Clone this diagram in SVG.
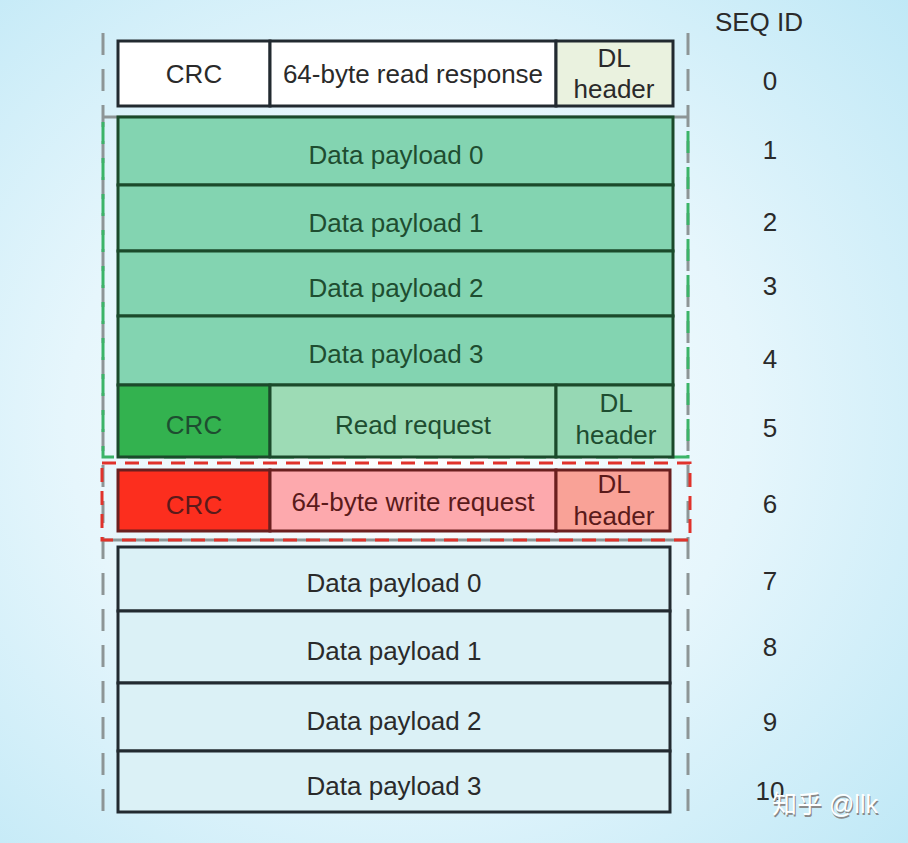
<svg xmlns="http://www.w3.org/2000/svg" width="908" height="843" viewBox="0 0 908 843">
<defs>
<radialGradient id="bg" cx="0.45" cy="0.5" r="0.75">
<stop offset="0" stop-color="#ffffff"/><stop offset="0.5" stop-color="#e6f6fc"/><stop offset="1" stop-color="#bfe8f6"/>
</radialGradient>
</defs>
<style>
text{font-family:"Liberation Sans",Arial,sans-serif;font-size:26px;text-anchor:middle;fill:#2a2a2a}
.g text{fill:#1e4d30}
.r text{fill:#5a1a1a}
.k{stroke:#222a30;stroke-width:3}
.gk{stroke:#1b4a2b;stroke-width:3}
.rk{stroke:#6a1f1f;stroke-width:3}
.gd{fill:none;stroke:#8d9596;stroke-width:3;stroke-dasharray:22 14}
.wm{font-family:"Liberation Sans","Noto Sans CJK SC",sans-serif;font-size:25px}
</style>
<rect width="908" height="843" fill="url(#bg)"/>
<g id="guides">
<line class="gd" x1="103" y1="33" x2="103" y2="825"/>
<line class="gd" x1="688" y1="33" x2="688" y2="815"/>
<line x1="103" y1="117" x2="688" y2="117" stroke="#8d9596" stroke-width="3"/>
<line x1="103" y1="540" x2="688" y2="540" stroke="#8d9596" stroke-width="3"/>
<path d="M103 122 V457 H688 V122" fill="none" stroke="#3bb468" stroke-width="3" stroke-dasharray="22 14"/>
<rect x="102" y="463" width="588" height="77" fill="none" stroke="#e0322b" stroke-width="3" stroke-dasharray="14 9"/>
</g>
<g id="row0">
<rect class="k" x="118" y="41" width="152" height="65" fill="#fff"/>
<rect class="k" x="270" y="41" width="286" height="65" fill="#fff"/>
<rect class="k" x="556" y="41" width="117" height="65" fill="#eaf2df"/>
<text x="194" y="83">CRC</text><text x="413" y="83">64-byte read response</text>
<text x="614" y="67">DL</text><text x="614" y="98">header</text>
</g>
<g id="green" class="g">
<rect class="gk" x="118" y="117" width="555" height="68" fill="#83d4b1"/>
<rect class="gk" x="118" y="185" width="555" height="66" fill="#83d4b1"/>
<rect class="gk" x="118" y="251" width="555" height="65" fill="#83d4b1"/>
<rect class="gk" x="118" y="316" width="555" height="69" fill="#83d4b1"/>
<rect class="gk" x="118" y="385" width="152" height="72" fill="#33b24f"/>
<rect class="gk" x="270" y="385" width="286" height="72" fill="#9ddbb5"/>
<rect class="gk" x="556" y="385" width="117" height="72" fill="#96d8b4"/>
<text x="396" y="164">Data payload 0</text><text x="396" y="232">Data payload 1</text>
<text x="396" y="297">Data payload 2</text><text x="396" y="363">Data payload 3</text>
<text x="194" y="434">CRC</text><text x="413" y="434">Read request</text>
<text x="616" y="412">DL</text><text x="616" y="444">header</text>
</g>
<g id="red" class="r">
<rect class="rk" x="118" y="470" width="152" height="61" fill="#fc2e1e"/>
<rect class="rk" x="270" y="470" width="286" height="61" fill="#fda9ad"/>
<rect class="rk" x="556" y="470" width="114" height="61" fill="#f9a297"/>
<text x="194" y="514">CRC</text><text x="413" y="511">64-byte write request</text>
<text x="614" y="493">DL</text><text x="614" y="525">header</text>
</g>
<g id="bottom">
<rect class="k" x="118" y="547" width="552" height="64" fill="#dbf1f6"/>
<rect class="k" x="118" y="611" width="552" height="72" fill="#dbf1f6"/>
<rect class="k" x="118" y="683" width="552" height="68" fill="#dbf1f6"/>
<rect class="k" x="118" y="751" width="552" height="61" fill="#dbf1f6"/>
<text x="394" y="592">Data payload 0</text><text x="394" y="660">Data payload 1</text>
<text x="394" y="730">Data payload 2</text><text x="394" y="795">Data payload 3</text>
</g>
<g id="seq">
<text x="759" y="31">SEQ ID</text>
<text x="770" y="90">0</text><text x="770" y="159">1</text><text x="770" y="231">2</text>
<text x="770" y="295">3</text><text x="770" y="368">4</text><text x="770" y="437">5</text>
<text x="770" y="513">6</text><text x="770" y="590">7</text><text x="770" y="656">8</text>
<text x="770" y="731">9</text><text x="770" y="800">10</text>
</g>
<g id="watermark">
<text class="wm" x="826" y="815" fill="#8a8a8a" style="fill:#8a8a8a">知乎 @llk</text>
<text class="wm" x="825" y="813" style="fill:#ffffff">知乎 @llk</text>
</g>
</svg>
